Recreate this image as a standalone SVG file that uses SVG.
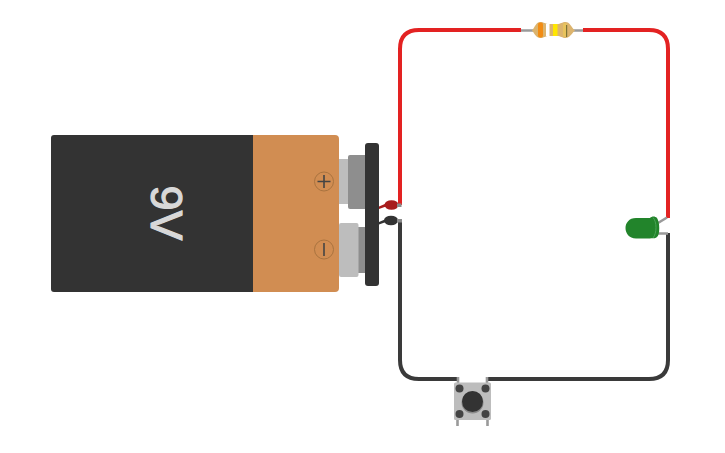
<svg xmlns="http://www.w3.org/2000/svg" width="725" height="453" viewBox="0 0 725 453">
<style>
.wire{fill:none;stroke-width:4;stroke-linecap:butt}
.lead{fill:none;stroke:#9a9a9a;stroke-width:2.600}
.sym{fill:none;stroke:#444;stroke-width:1.600}
.ring{fill:none;stroke:#a9733f;stroke-width:1}
.tip{fill:#8a8a8a}
</style>
<rect width="725" height="453" fill="#fff"/>
<g id="connectors">
<path class="wire" stroke="#e32222" d="M400 205V49Q400 30 419 30H521"/>
<path class="wire" stroke="#e32222" d="M583 30H649Q668 30 668 49V218"/>
<path class="wire" stroke="#3a3a3a" d="M400 221V360Q400 379 419 379H458"/>
<path class="wire" stroke="#3a3a3a" d="M487 379H649Q668 379 668 360V233"/>
</g>
<g id="battery">
<rect x="339" y="159" width="12" height="45" fill="#bdbdbd"/>
<rect x="348" y="155" width="20" height="54" rx="2" fill="#8e8e8e"/>
<rect x="356" y="227" width="12" height="46" fill="#8e8e8e"/>
<rect x="339" y="223" width="19.500" height="54" rx="2" fill="#bdbdbd"/>
<path d="M253 135H54Q51 135 51 138V289Q51 292 54 292H253Z" fill="#333"/>
<path d="M253 135H335Q339 135 339 139V288Q339 292 335 292H253Z" fill="#d18d52"/>
<rect x="365" y="143" width="14" height="143" rx="3" fill="#333"/>
<circle class="ring" cx="324" cy="181.500" r="9.500"/>
<path class="sym" d="M317.500 181.500H330.500M324 175V188"/>
<circle class="ring" cx="324" cy="249.500" r="9.500"/>
<path class="sym" d="M324 243V256"/>
<text transform="translate(151 213) rotate(90)" font-family="Liberation Sans, Arial, sans-serif" font-size="45" fill="#d8d8d8" stroke="#d8d8d8" stroke-width="1.200" stroke-linejoin="round" text-anchor="middle">9V</text>
</g>
<g id="clip">
<path d="M379 209L386 206.500V203.500L379 206.500Z" fill="#a81c1c"/>
<ellipse cx="391.500" cy="205" rx="7" ry="4.800" fill="#a81c1c"/>
<rect x="397" y="203.500" width="4.500" height="3.500" class="tip"/>
<path d="M379 224.500L386 222V219L379 222Z" fill="#333"/>
<ellipse cx="391" cy="220.500" rx="7" ry="4.800" fill="#333"/>
<rect x="397" y="219" width="5" height="3.500" class="tip"/>
</g>
<g id="resistor">
<path class="lead" d="M521 30.500H536M572 30.500H583"/>
<path d="M532 30.500C535 27 536 22 540.500 22C544 22 545 24 549 24H557C561 24 562 22 565.500 22C570 22 571 27 575 30.500C571 34 570 38 565.500 38C562 38 561 36 557 36H549C545 36 544 38 540.500 38C536 38 535 34 532 30.500Z" fill="#dcb46e"/>
<rect x="538" y="22.500" width="5" height="15" rx="2" fill="#f28c13"/>
<rect x="546" y="24" width="3.500" height="12" fill="#fff"/>
<rect x="553" y="24" width="4.500" height="12" fill="#ffe600"/>
<rect x="563" y="23" width="4" height="14" rx="2" fill="#e8c35c"/>
<rect x="566" y="25" width="1.200" height="12" fill="#7d7334"/>
</g>
<g id="led">
<path class="lead" d="M658 223L667 217.500M658 233.500H668"/>
<path d="M636 218H650C652 216 655 216 657 218C660 222 660 235 657 237C655 239 652 238 650 238.500H636C629 238.500 625.500 233 625.500 228C625.500 223 629 218 636 218Z" fill="#22842b"/>
<path d="M653 217.500C657 222 657 233 653 238" fill="none" stroke="#4ba356" stroke-width="1"/>
</g>
<g id="button">
<path class="lead" d="M458 377V384M487 377V384M457.500 418V426M487.500 418V426"/>
<rect x="454" y="382.500" width="37" height="37.500" rx="1.500" fill="#bdbdbd"/>
<circle cx="459.500" cy="388.500" r="4" fill="#444"/>
<circle cx="485.500" cy="388.500" r="4" fill="#444"/>
<circle cx="459.500" cy="414" r="4" fill="#444"/>
<circle cx="485.500" cy="414" r="4" fill="#444"/>
<circle cx="472.500" cy="402.500" r="11" fill="#8a8a8a"/>
<circle cx="472.500" cy="401.500" r="10.500" fill="#333"/>
</g>
</svg>
